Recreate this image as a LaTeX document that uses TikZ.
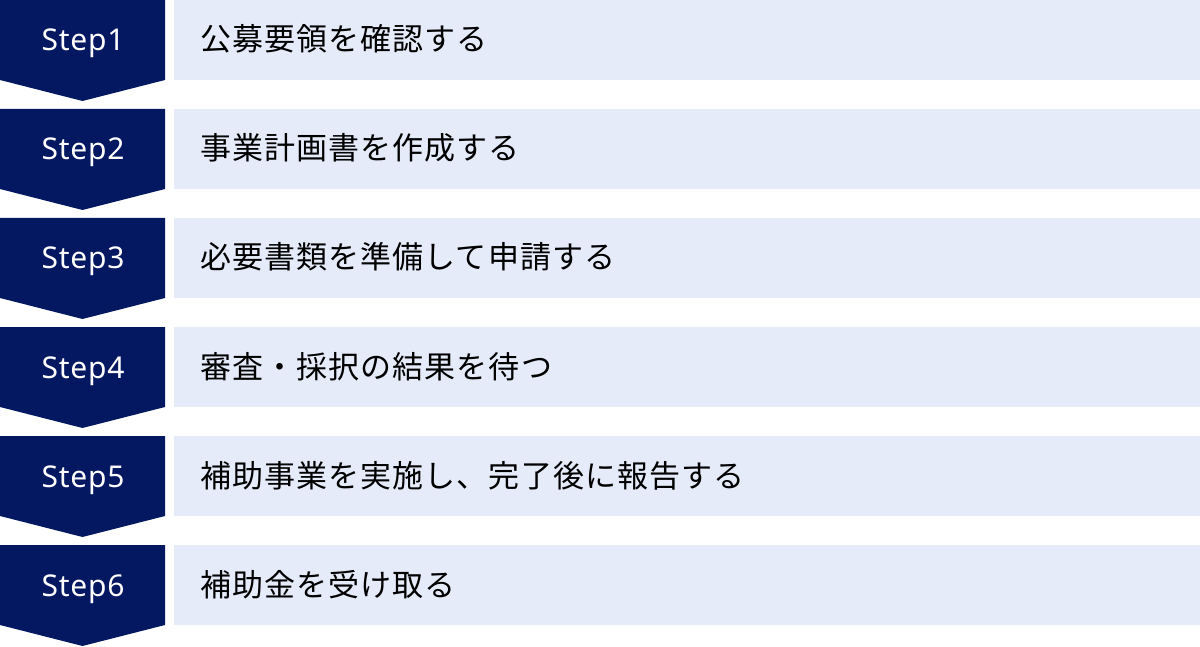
\documentclass[tikz,border=0pt]{standalone}
\usepackage{fontspec}
\newfontfamily\jpfont[LetterSpace=3.5]{Noto Sans CJK JP}
\newfontfamily\stepfont[LetterSpace=2.5]{Noto Sans}
\usetikzlibrary{positioning}
\definecolor{stepnavy}{RGB}{4, 24, 98}
\definecolor{rowblue}{RGB}{229, 235, 249}

\tikzset{
  steplabel/.style={text=white, font=\stepfont\fontsize{30}{33}\selectfont, anchor=base, inner sep=0pt},
  tasklabel/.style={text=black, font=\jpfont\fontsize{31}{35}\selectfont, anchor=base west, inner sep=0pt},
}

\begin{document}
\begin{tikzpicture}[x=1pt, y=-1pt]
% Basic parameters for the rows
\def\stepw{165}
\def\boxh{80}
\def\tipy{101}
\def\rowx{174}
\def\rowend{1200}

\useasboundingbox (0,0) rectangle (1200,647);

% Light blue rows
\begin{scope}[rowblue]
\fill (\rowx,0)   rectangle (\rowend,\boxh);       % 1
\fill (\rowx,109) rectangle (\rowend,109+\boxh);   % 2
\fill (\rowx,218) rectangle (\rowend,218+\boxh);   % 3
\fill (\rowx,327) rectangle (\rowend,327+\boxh);   % 4
\fill (\rowx,436) rectangle (\rowend,436+\boxh);   % 5
\fill (\rowx,545) rectangle (\rowend,545+\boxh);   % 6
\end{scope}

% Navy step arrows
\begin{scope}[stepnavy]
\fill (0,0)   -- (\stepw,0)   -- (\stepw,\boxh)     -- (\stepw/2,\tipy)     -- (0,\boxh)     -- cycle;
\fill (0,109) -- (\stepw,109) -- (\stepw,109+\boxh) -- (\stepw/2,109+\tipy) -- (0,109+\boxh) -- cycle;
\fill (0,218) -- (\stepw,218) -- (\stepw,218+\boxh) -- (\stepw/2,218+\tipy) -- (0,218+\boxh) -- cycle;
\fill (0,327) -- (\stepw,327) -- (\stepw,327+\boxh) -- (\stepw/2,327+\tipy) -- (0,327+\boxh) -- cycle;
\fill (0,436) -- (\stepw,436) -- (\stepw,436+\boxh) -- (\stepw/2,436+\tipy) -- (0,436+\boxh) -- cycle;
\fill (0,545) -- (\stepw,545) -- (\stepw,545+\boxh) -- (\stepw/2,545+\tipy) -- (0,545+\boxh) -- cycle;
\end{scope}

% Step labels
\node[steplabel] (stepA) at (83, 51)  {Step1};
\node[steplabel] (stepB) at (83, 160) {Step2};
\node[steplabel] (stepC) at (83, 269) {Step3};
\node[steplabel] (stepD) at (83, 378) {Step4};
\node[steplabel] (stepE) at (83, 487) {Step5};
\node[steplabel] (stepF) at (83, 596) {Step6};

% Task texts
\node[tasklabel] (taskA) at (200, 51)  {公募要領を確認する};
\node[tasklabel] (taskB) at (200, 160) {事業計画書を作成する};
\node[tasklabel] (taskC) at (200, 269) {必要書類を準備して申請する};
\node[tasklabel] (taskD) at (200, 378) {審査・採択の結果を待つ};
\node[tasklabel] (taskE) at (200, 487) {補助事業を実施し、完了後に報告する};
\node[tasklabel] (taskF) at (200, 596) {補助金を受け取る};
\end{tikzpicture}
\end{document}
